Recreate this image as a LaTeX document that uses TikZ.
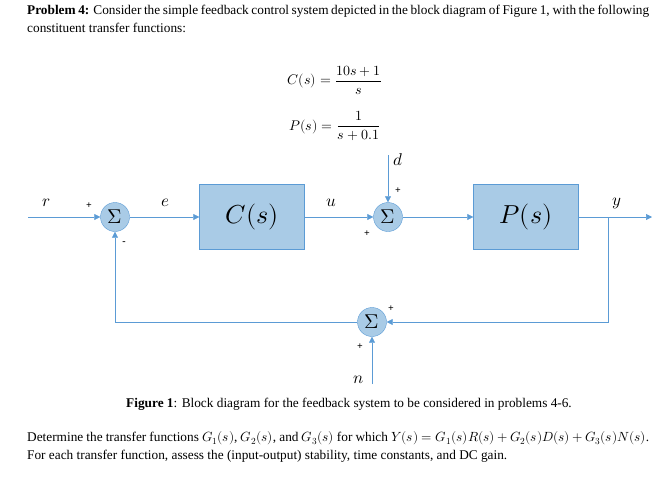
\documentclass[tikz,border=0pt]{standalone}
\usepackage{amsmath}
\usepackage{fontspec}
\usepackage{unicode-math}
\setmainfont{Liberation Serif}
\setmathfont{Latin Modern Math}
\usetikzlibrary{arrows.meta}
\definecolor{bfill}{HTML}{A9CBE6}
\definecolor{bline}{HTML}{5B9BD5}
\begin{document}
\begin{tikzpicture}[x=1pt,y=-1pt,
  sig/.style={draw=bline,line width=0.6pt},
  arr/.style={sig,-{Triangle[length=6pt,width=6pt]},bline},
  blk/.style={draw=bline,fill=bfill,minimum width=105pt,minimum height=65pt,font=\fontsize{26}{28}\selectfont,inner sep=0},
  sum/.style={circle,draw=bline,fill=bfill,minimum size=29pt,inner sep=0,font=\fontsize{20}{22}\selectfont},
  lbl/.style={font=\fontsize{17}{19}\selectfont},
  sg/.style={font=\fontsize{10}{11}\selectfont\bfseries},
  txt/.style={text width=622pt,align=justify,inner sep=0,anchor=north west,font=\fontsize{13.3}{18}\selectfont}]
\useasboundingbox (0,0) rectangle (671,477);
\node[txt] (t1) at (27,5) {\textbf{Problem 4:} Consider the simple feedback control system depicted in the block diagram of Figure 1, with the following constituent transfer functions:};
\node[font=\fontsize{14}{16}\selectfont] (ceq) at (335,80) {$C(s)=\dfrac{10s+1}{s}$};
\node[font=\fontsize{14}{16}\selectfont] (peq) at (335,126) {$P(s)=\dfrac{1}{s+0.1}$};
\node[sum] (s1) at (115,217) {$\Sigma$};
\node[blk] (C) at (252,217) {$C(s)$};
\node[sum] (s2) at (388,217) {$\Sigma$};
\node[blk] (P) at (526,217) {$P(s)$};
\node[sum] (s3) at (372,322) {$\Sigma$};
\coordinate (rin) at (28,217);
\coordinate (yout) at (652,217);
\coordinate (br) at (608,217);
\coordinate (din) at (388,155);
\coordinate (nin) at (372,384);
\node[lbl] (r) at (46,203) {$r$};
\node[lbl] (e) at (165,203) {$e$};
\node[lbl] (u) at (331,203) {$u$};
\node[lbl] (y) at (617,203) {$y$};
\node[lbl] (d) at (398,160) {$d$};
\node[lbl] (n) at (359,380) {$n$};
\draw[arr] (rin) -- (s1);
\draw[arr] (s1) -- (C);
\draw[arr] (C) -- (s2);
\draw[arr] (s2) -- (P);
\draw[arr] (P) -- (yout);
\draw[arr] (din) -- (s2);
\draw[arr] (br) |- (s3);
\draw[arr] (nin) -- (s3);
\draw[arr] (s3) -| (s1);
\node[sg] at (89,206) {+};
\node[sg] at (124,243) {-};
\node[sg] at (367,234) {+};
\node[sg] at (398,191) {+};
\node[sg] at (391,309) {+};
\node[sg] at (360,347) {+};
\node[font=\fontsize{13.3}{15}\selectfont] (cap) at (349,404) {\textbf{Figure 1}: Block diagram for the feedback system to be considered in problems 4-6.};
\node[txt] (t2) at (27,431) {Determine the transfer functions $G_1(s)$, $G_2(s)$, and $G_3(s)$ for which $Y(s)=G_1(s)R(s)+G_2(s)D(s)+G_3(s)N(s)$. For each transfer function, assess the (input-output) stability, time constants, and DC gain.};
\end{tikzpicture}
\end{document}
